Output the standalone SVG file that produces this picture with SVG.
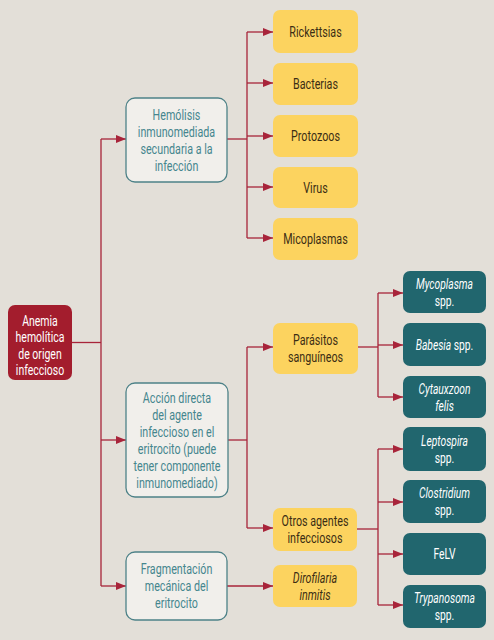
<svg xmlns="http://www.w3.org/2000/svg" width="494" height="640" viewBox="0 0 494 640">
<defs>
<marker id="ah" markerWidth="10" markerHeight="8" refX="10" refY="4" orient="auto" markerUnits="userSpaceOnUse"><path d="M0,0 L10,4 L0,8 z" fill="#a8243a"/></marker>
<style>
text{font-family:Roboto,'Liberation Sans',sans-serif;font-weight:400;font-size:14.5px;text-anchor:middle}
.red rect{fill:#a31d2d}
.red text{fill:#ffffff;font-size:14px}
.wn rect{fill:#f1efeb;stroke:#4e8288;stroke-width:1.3}
.wn text{fill:#45868e}
.yn rect{fill:#fcd35f}
.yn text{fill:#3b2d14}
.tn rect{fill:#21666e}
.tn text{fill:#ffffff;font-style:italic}
.tn .up{font-style:normal}
.it{font-style:italic}
.conn path{fill:none;stroke:#a8243a;stroke-width:1.3}
.conn .a{marker-end:url(#ah)}
</style>
</defs>
<rect width="494" height="640" fill="#e3dfd8"/>
<g class="conn">
<path d="M72,342.5 H101"/>
<path d="M101,139 V586"/>
<path class="a" d="M101,139 H126"/>
<path class="a" d="M101,440 H126"/>
<path class="a" d="M101,586 H126"/>
<path d="M227,139 H247"/>
<path d="M247,32 V238"/>
<path class="a" d="M247,32 H273"/>
<path class="a" d="M247,83 H273"/>
<path class="a" d="M247,136 H273"/>
<path class="a" d="M247,187 H273"/>
<path class="a" d="M247,238 H273"/>
<path d="M228,440 H247"/>
<path d="M247,347 V528"/>
<path class="a" d="M247,347 H273"/>
<path class="a" d="M247,528 H273"/>
<path class="a" d="M227,586 H273"/>
<path d="M358,347 H378"/>
<path d="M378,293 V397"/>
<path class="a" d="M378,293 H403"/>
<path class="a" d="M378,345 H403"/>
<path class="a" d="M378,397 H403"/>
<path d="M357,529 H378"/>
<path d="M378,449 V605"/>
<path class="a" d="M378,449 H403"/>
<path class="a" d="M378,502 H403"/>
<path class="a" d="M378,554 H403"/>
<path class="a" d="M378,605 H403"/>
</g>
<g id="n-anemia" class="red"><rect x="8" y="305" width="64" height="75" rx="7"/>
<g transform="translate(40,0) scale(0.75,1)"><text x="0" y="326">Anemia<tspan x="0" dy="16.5">hemolítica</tspan><tspan x="0" dy="16.5">de origen</tspan><tspan x="0" dy="16.5">infeccioso</tspan></text></g></g>
<g id="n-hemolisis" class="wn"><rect x="126" y="98" width="101" height="84" rx="9"/>
<g transform="translate(176.5,0) scale(0.74,1)"><text x="0" y="120">Hemólisis<tspan x="0" dy="17">inmunomediada</tspan><tspan x="0" dy="17">secundaria a la</tspan><tspan x="0" dy="17">infección</tspan></text></g></g>
<g id="n-accion" class="wn"><rect x="126" y="383" width="102" height="114" rx="9"/>
<g transform="translate(177,0) scale(0.74,1)"><text x="0" y="403">Acción directa<tspan x="0" dy="17">del agente</tspan><tspan x="0" dy="17">infeccioso en el</tspan><tspan x="0" dy="17">eritrocito (puede</tspan><tspan x="0" dy="17">tener componente</tspan><tspan x="0" dy="17">inmunomediado)</tspan></text></g></g>
<g id="n-frag" class="wn"><rect x="126" y="552" width="101" height="68" rx="9"/>
<g transform="translate(176.5,0) scale(0.74,1)"><text x="0" y="574.5">Fragmentación<tspan x="0" dy="17">mecánica del</tspan><tspan x="0" dy="17">eritrocito</tspan></text></g></g>
<g id="n-rick" class="yn"><rect x="273" y="10" width="85" height="43" rx="7"/><g transform="translate(315.5,0) scale(0.74,1)"><text x="0" y="37">Rickettsias</text></g></g>
<g id="n-bact" class="yn"><rect x="273" y="63" width="85" height="42" rx="7"/><g transform="translate(315.5,0) scale(0.74,1)"><text x="0" y="89.5">Bacterias</text></g></g>
<g id="n-prot" class="yn"><rect x="273" y="115" width="85" height="42" rx="7"/><g transform="translate(315.5,0) scale(0.74,1)"><text x="0" y="141.5">Protozoos</text></g></g>
<g id="n-virus" class="yn"><rect x="273" y="167" width="85" height="41" rx="7"/><g transform="translate(315.5,0) scale(0.74,1)"><text x="0" y="193">Virus</text></g></g>
<g id="n-mico" class="yn"><rect x="273" y="218" width="85" height="42" rx="7"/><g transform="translate(315.5,0) scale(0.74,1)"><text x="0" y="244.5">Micoplasmas</text></g></g>
<g id="n-paras" class="yn"><rect x="273" y="323" width="85" height="51" rx="7"/><g transform="translate(315.5,0) scale(0.74,1)"><text x="0" y="345.5">Parásitos<tspan x="0" dy="17">sanguíneos</tspan></text></g></g>
<g id="n-otros" class="yn"><rect x="273" y="508" width="84" height="43" rx="7"/><g transform="translate(315,0) scale(0.74,1)"><text x="0" y="526.5">Otros agentes<tspan x="0" dy="17">infecciosos</tspan></text></g></g>
<g id="n-diro" class="yn"><rect x="273" y="565" width="84" height="42" rx="7"/><g transform="translate(315,0) scale(0.74,1)"><text class="it" x="0" y="583">Dirofilaria<tspan x="0" dy="17">inmitis</tspan></text></g></g>
<g id="n-myco" class="tn"><rect x="403" y="271" width="83" height="42" rx="7"/><g transform="translate(444.5,0) scale(0.71,1)"><text x="0" y="289">Mycoplasma<tspan class="up" x="0" dy="17">spp.</tspan></text></g></g>
<g id="n-babe" class="tn"><rect x="403" y="323" width="83" height="43" rx="7"/><g transform="translate(444.5,0) scale(0.71,1)"><text x="0" y="350">Babesia<tspan class="up"> spp.</tspan></text></g></g>
<g id="n-cyta" class="tn"><rect x="403" y="376" width="83" height="42" rx="7"/><g transform="translate(444.5,0) scale(0.71,1)"><text x="0" y="394">Cytauxzoon<tspan x="0" dy="17">felis</tspan></text></g></g>
<g id="n-lepto" class="tn"><rect x="403" y="427" width="83" height="44" rx="7"/><g transform="translate(444.5,0) scale(0.71,1)"><text x="0" y="446">Leptospira<tspan class="up" x="0" dy="17">spp.</tspan></text></g></g>
<g id="n-clos" class="tn"><rect x="403" y="480" width="83" height="43" rx="7"/><g transform="translate(444.5,0) scale(0.71,1)"><text x="0" y="498.5">Clostridium<tspan class="up" x="0" dy="17">spp.</tspan></text></g></g>
<g id="n-felv" class="tn"><rect x="403" y="533" width="83" height="42" rx="7"/><g transform="translate(444.5,0) scale(0.71,1)"><text class="up" x="0" y="559.5">FeLV</text></g></g>
<g id="n-tryp" class="tn"><rect x="403" y="585" width="83" height="43" rx="7"/><g transform="translate(444.5,0) scale(0.71,1)"><text x="0" y="603.5">Trypanosoma<tspan class="up" x="0" dy="17">spp.</tspan></text></g></g>
</svg>
